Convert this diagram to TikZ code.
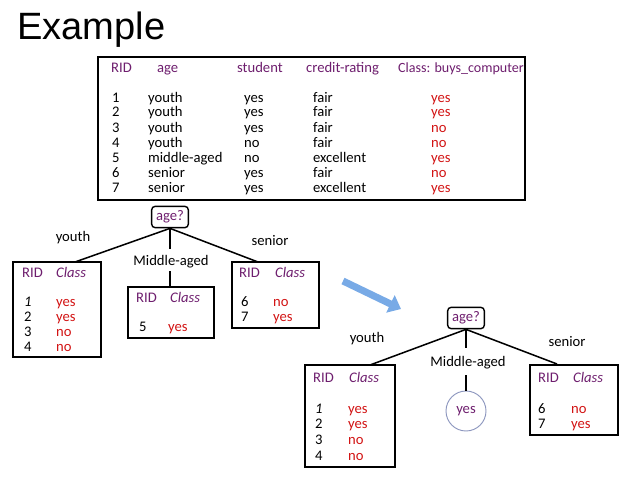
\documentclass[tikz,border=0pt]{standalone}
\usepackage{fontspec}
\setmainfont{Carlito}
\newfontfamily\titlefont{Liberation Sans}
\usetikzlibrary{arrows.meta}
\definecolor{hdr}{RGB}{110,30,110}
\definecolor{val}{RGB}{210,20,20}
\definecolor{arr}{RGB}{120,170,230}
\definecolor{ring}{RGB}{140,150,190}
\begin{document}
\begin{tikzpicture}[x=0.03cm,y=-0.03cm,font=\fontsize{12.5}{13}\selectfont,
  box/.style={draw,line width=1.3pt},
  q/.style={draw,line width=1.2pt,rounded corners=3pt,text=hdr,minimum width=1.1cm,minimum height=0.64cm},
  h/.style={text=hdr,anchor=base west},
  t/.style={anchor=base west},
  v/.style={text=val,anchor=base west},
  edge/.style={line width=1.3pt}]
\useasboundingbox (0,0) rectangle (638,478);
\node[anchor=west,font=\titlefont\fontsize{32.5}{33}\selectfont] (title) at (13,30) {Example};

% data table
\draw[box] (98,57) rectangle (525,200);
\foreach \x/\t in {107/RID,153/age,233/student,302/credit-rating}
  \node[h] at (\x,73) {\t};
\node[h,font=\fontsize{12}{13}\selectfont] at (394,73) {Class: buys\_computer};
\foreach \y/\n/\a/\s/\c/\k in {98/1/youth/yes/fair/yes,113/2/youth/yes/fair/yes,128/3/youth/yes/fair/no,
  143/4/youth/no/fair/no,158/5/middle-aged/no/excellent/yes,173/6/senior/yes/fair/no,188/7/senior/yes/excellent/yes}{
  \node[t] at (108,\y+4) {\n};
  \node[t] at (144,\y+4) {\a};
  \node[t] at (240,\y+4) {\s};
  \node[t] at (309,\y+4) {\c};
  \node[v] at (427,\y+4) {\k};
}

% left tree
\node[q] (age1) at (170,217) {age?};
\coordinate (y1) at (75,262);
\coordinate (s1) at (258,262);
\coordinate (m1a) at (170,249);
\coordinate (m1b) at (170,271);
\coordinate (m1c) at (170,287);
\draw[edge] (age1.south) -- (y1);
\draw[edge] (age1.south) -- (s1);
\draw[edge] (age1.south) -- (m1a);
\draw[edge] (m1b) -- (m1c);
\node (ly1) at (73,238) {youth};
\node (ls1) at (270,241) {senior};
\node (lm1) at (171,262) {Middle-aged};

\draw[box] (13,262) rectangle (101,357);
\node[h] at (18,277) {RID};
\node[h] at (52,277) {\itshape Class};
\foreach \y/\n/\k in {302/\itshape 1/yes,317/2/yes,332/3/no,347/4/no}{
  \node[t] at (20,\y+4) {\n};
  \node[v] at (52,\y+4) {\k};
}
\draw[box] (128,287) rectangle (214,338);
\node[h] at (132,302) {RID};
\node[h] at (166,302) {\itshape Class};
\node[t] at (135,331) {5};
\node[v] at (164,331) {yes};
\draw[box] (232,262) rectangle (319,328);
\node[h] at (235,277) {RID};
\node[h] at (271,277) {\itshape Class};
\node[t] at (237,306) {6};
\node[v] at (269,306) {no};
\node[t] at (237,321) {7};
\node[v] at (269,321) {yes};

% arrow
\coordinate (a1) at (343,281);
\coordinate (a2) at (401,309);
\draw[-{Triangle[length=10pt,width=16pt]},line width=6pt,draw=arr] (a1) -- (a2);

% right tree
\node[q] (age2) at (466,318) {age?};
\coordinate (y2) at (370,365);
\coordinate (s2) at (557,364);
\coordinate (m2a) at (466,348);
\coordinate (m2b) at (466,375);
\draw[edge] (age2.south) -- (y2);
\draw[edge] (age2.south) -- (s2);
\draw[edge] (age2.south) -- (m2a);
\node (ly2) at (367,339) {youth};
\node (ls2) at (567,342) {senior};
\node (lm2) at (468,363) {Middle-aged};
\node[circle,draw=ring,line width=0.8pt,minimum size=1.2cm,text=hdr] (leaf) at (466,411) {yes};
\draw[edge] (m2b) -- (leaf.north);

\draw[box] (305,365) rectangle (395,467);
\node[h] at (309,382) {RID};
\node[h] at (345,382) {\itshape Class};
\foreach \y/\n/\k in {409/\itshape 1/yes,424/2/yes,440/3/no,456/4/no}{
  \node[t] at (311,\y+4) {\n};
  \node[v] at (344,\y+4) {\k};
}
\draw[box] (530,365) rectangle (618,435);
\node[h] at (534,382) {RID};
\node[h] at (569,382) {\itshape Class};
\node[t] at (534,413) {6};
\node[v] at (567,413) {no};
\node[t] at (534,428) {7};
\node[v] at (567,428) {yes};
\end{tikzpicture}
\end{document}
